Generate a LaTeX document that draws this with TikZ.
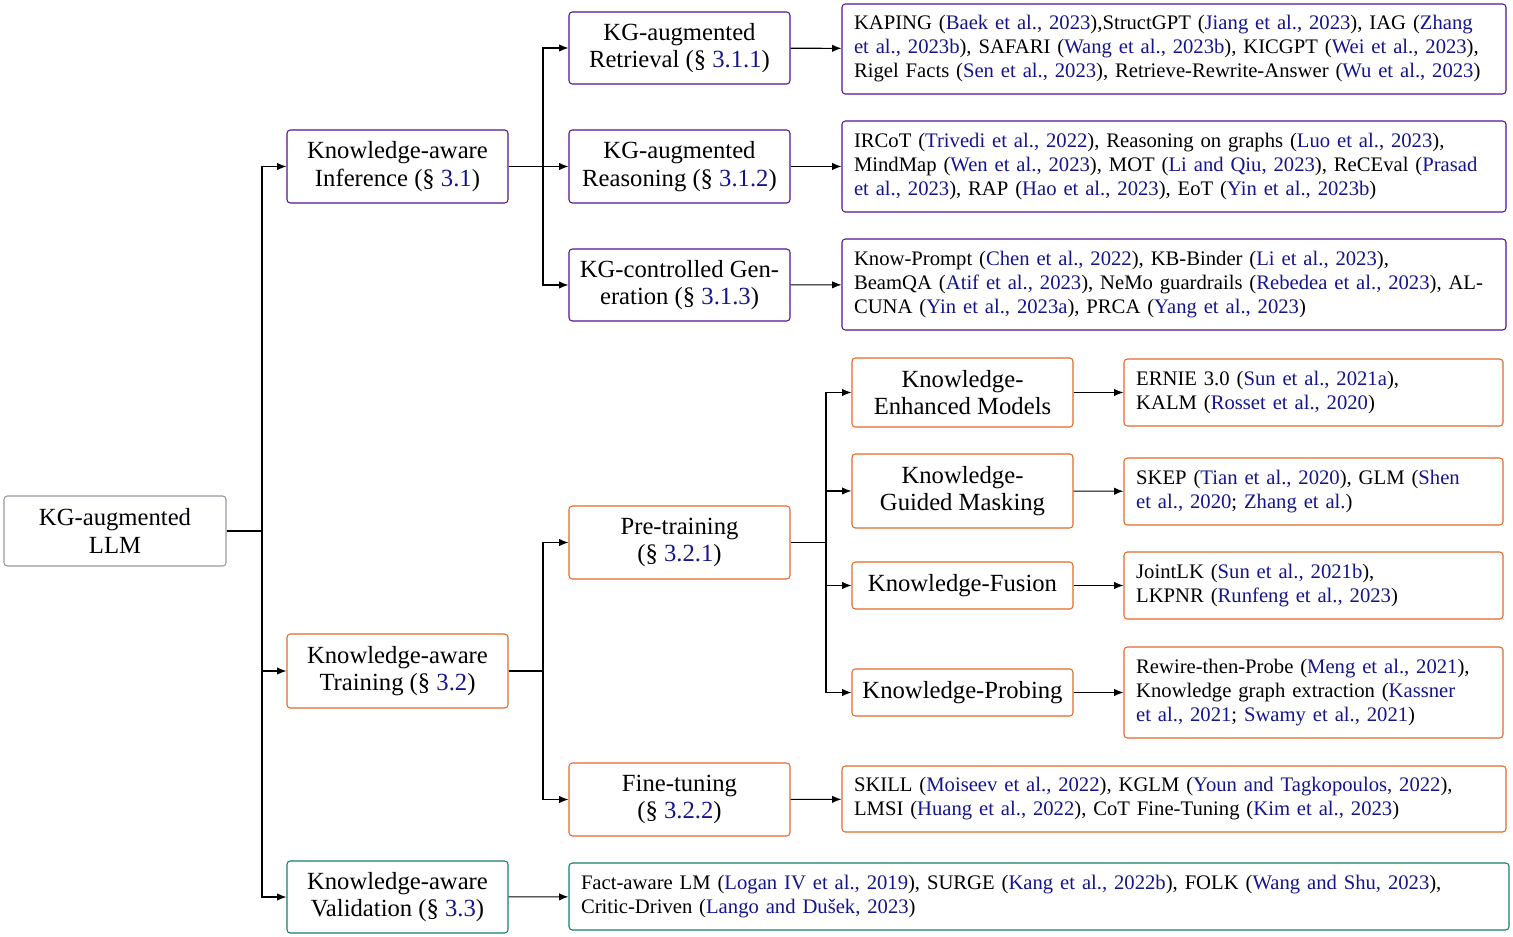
\documentclass[tikz,border=0pt]{standalone}
\usepackage{fontspec}
\setmainfont{Liberation Serif}
\usetikzlibrary{arrows.meta}
\definecolor{cite}{RGB}{20,20,140}
\definecolor{cpur}{RGB}{85,20,140}
\definecolor{cora}{RGB}{225,105,40}
\definecolor{ctea}{RGB}{20,125,115}
\definecolor{cgry}{RGB}{150,150,160}
\newcommand{\ct}[1]{{\color{cite}#1}}
\begin{document}
\begin{tikzpicture}[x=0.75pt,y=-0.75pt,
 box/.style={draw,rounded corners=2.5pt,line width=0.8pt,align=center,inner sep=0pt,font=\fontsize{18.5}{20.5}\selectfont},
 ref/.style={draw,rounded corners=2.5pt,line width=0.8pt,align=left,inner sep=0pt,font=\fontsize{15.5}{18}\selectfont},
 ln/.style={line width=0.8pt},
 ar/.style={line width=0.8pt,-{Latex[length=7pt,width=5.5pt]}}]
\useasboundingbox (0,0) rectangle (1513,937);
% nodes
\node[box,draw=cgry,minimum width=166.5pt,minimum height=52.5pt] (root) at (115,531) {KG-augmented\\LLM};
\node[box,draw=cpur,minimum width=165.75pt,minimum height=54.75pt] (inf) at (397.5,166.5) {Knowledge-aware\\Inference (§ \ct{3.1})};
\node[box,draw=cora,minimum width=165.75pt,minimum height=55.5pt] (tra) at (397.5,671) {Knowledge-aware\\Training (§ \ct{3.2})};
\node[box,draw=ctea,minimum width=165.75pt,minimum height=54pt] (val) at (397.5,897) {Knowledge-aware\\Validation (§ \ct{3.3})};
\node[box,draw=cpur,minimum width=165.75pt,minimum height=54pt] (ret) at (679.5,48) {KG-augmented\\Retrieval (§ \ct{3.1.1})};
\node[box,draw=cpur,minimum width=165.75pt,minimum height=54.75pt] (rea) at (679.5,166.5) {KG-augmented\\Reasoning (§ \ct{3.1.2})};
\node[box,draw=cpur,minimum width=165.75pt,minimum height=54pt] (gen) at (679.5,285) {KG-controlled Gen-\\eration (§ \ct{3.1.3})};
\node[ref,draw=cpur,minimum width=498pt,minimum height=67.5pt,text width=480pt] (rret) at (1174,49) {KAPING (\ct{Baek et al., 2023}),StructGPT (\ct{Jiang et al., 2023}), IAG (\ct{Zhang}\\\ct{et al., 2023b}), SAFARI (\ct{Wang et al., 2023b}), KICGPT (\ct{Wei et al., 2023}),\\Rigel Facts (\ct{Sen et al., 2023}), Retrieve-Rewrite-Answer (\ct{Wu et al., 2023})};
\node[ref,draw=cpur,minimum width=498pt,minimum height=68.25pt,text width=480pt] (rrea) at (1174,166.5) {IRCoT (\ct{Trivedi et al., 2022}), Reasoning on graphs (\ct{Luo et al., 2023}),\\MindMap (\ct{Wen et al., 2023}), MOT (\ct{Li and Qiu, 2023}), ReCEval (\ct{Prasad}\\\ct{et al., 2023}), RAP (\ct{Hao et al., 2023}), EoT (\ct{Yin et al., 2023b})};
\node[ref,draw=cpur,minimum width=498pt,minimum height=68.25pt,text width=480pt] (rgen) at (1174,284.5) {Know-Prompt (\ct{Chen et al., 2022}), KB-Binder (\ct{Li et al., 2023}),\\BeamQA (\ct{Atif et al., 2023}), NeMo guardrails (\ct{Rebedea et al., 2023}), AL-\\CUNA (\ct{Yin et al., 2023a}), PRCA (\ct{Yang et al., 2023})};
\node[box,draw=cora,minimum width=165.75pt,minimum height=54.75pt] (pre) at (679.5,542.5) {Pre-training\\(§ \ct{3.2.1})};
\node[box,draw=cora,minimum width=165.75pt,minimum height=54.75pt] (fin) at (679.5,799.5) {Fine-tuning\\(§ \ct{3.2.2})};
\node[ref,draw=cora,minimum width=498pt,minimum height=49.5pt,text width=480pt] (rfin) at (1174,799) {SKILL (\ct{Moiseev et al., 2022}), KGLM (\ct{Youn and Tagkopoulos, 2022}),\\LMSI (\ct{Huang et al., 2022}), CoT Fine-Tuning (\ct{Kim et al., 2023})};
\node[box,draw=cora,minimum width=165.75pt,minimum height=51.75pt] (kem) at (962.5,392.5) {Knowledge-\\Enhanced Models};
\node[box,draw=cora,minimum width=165.75pt,minimum height=55.5pt] (kgm) at (962.5,491) {Knowledge-\\Guided Masking};
\node[box,draw=cora,minimum width=165.75pt,minimum height=35.25pt] (kf) at (962.5,585.5) {Knowledge-Fusion};
\node[box,draw=cora,minimum width=165.75pt,minimum height=35.25pt] (kp) at (962.5,692.5) {Knowledge-Probing};
\node[ref,draw=cora,minimum width=284.25pt,minimum height=50.25pt,text width=266pt] (rkem) at (1313.5,392.5) {ERNIE 3.0 (\ct{Sun et al., 2021a}),\\KALM (\ct{Rosset et al., 2020})};
\node[ref,draw=cora,minimum width=284.25pt,minimum height=50.25pt,text width=266pt] (rkgm) at (1313.5,491.5) {SKEP (\ct{Tian et al., 2020}), GLM (\ct{Shen}\\\ct{et al., 2020}; \ct{Zhang et al.})};
\node[ref,draw=cora,minimum width=284.25pt,minimum height=50.25pt,text width=266pt] (rkf) at (1313.5,585.5) {JointLK (\ct{Sun et al., 2021b}),\\LKPNR (\ct{Runfeng et al., 2023})};
\node[ref,draw=cora,minimum width=284.25pt,minimum height=68.25pt,text width=266pt] (rkp) at (1313.5,692.5) {Rewire-then-Probe (\ct{Meng et al., 2021}),\\Knowledge graph extraction (\ct{Kassner}\\\ct{et al., 2021}; \ct{Swamy et al., 2021})};
\node[ref,draw=ctea,minimum width=705pt,minimum height=50.25pt,text width=687pt] (rval) at (1039,896.5) {Fact-aware LM (\ct{Logan IV et al., 2019}), SURGE (\ct{Kang et al., 2022b}), FOLK (\ct{Wang and Shu, 2023}),\\Critic-Driven (\ct{Lango and Dušek, 2023})};
% connectors
\coordinate (t0) at (262,531);
\draw[ln] (root.east) -- (t0);
\draw[ar] (t0) |- (inf.west);
\draw[ar] (t0) |- (tra.west);
\draw[ar] (t0) |- (val.west);
\coordinate (t1) at (543,166.5);
\draw[ln] (inf.east) -- (t1);
\draw[ar] (t1) |- (ret.west);
\draw[ar] (t1) -- (rea.west);
\draw[ar] (t1) |- (gen.west);
\coordinate (t2) at (543,671);
\draw[ln] (tra.east) -- (t2);
\draw[ar] (t2) |- (pre.west);
\draw[ar] (t2) |- (fin.west);
\coordinate (t3) at (826,542.5);
\draw[ln] (pre.east) -- (t3);
\draw[ar] (t3) |- (kem.west);
\draw[ar] (t3) |- (kgm.west);
\draw[ar] (t3) |- (kf.west);
\draw[ar] (t3) |- (kp.west);
\draw[ar] (ret) -- (rret);
\draw[ar] (rea) -- (rrea);
\draw[ar] (gen) -- (rgen);
\draw[ar] (fin) -- (rfin);
\draw[ar] (kem) -- (rkem);
\draw[ar] (kgm) -- (rkgm);
\draw[ar] (kf) -- (rkf);
\draw[ar] (kp) -- (rkp);
\draw[ar] (val) -- (rval);
\end{tikzpicture}
\end{document}
